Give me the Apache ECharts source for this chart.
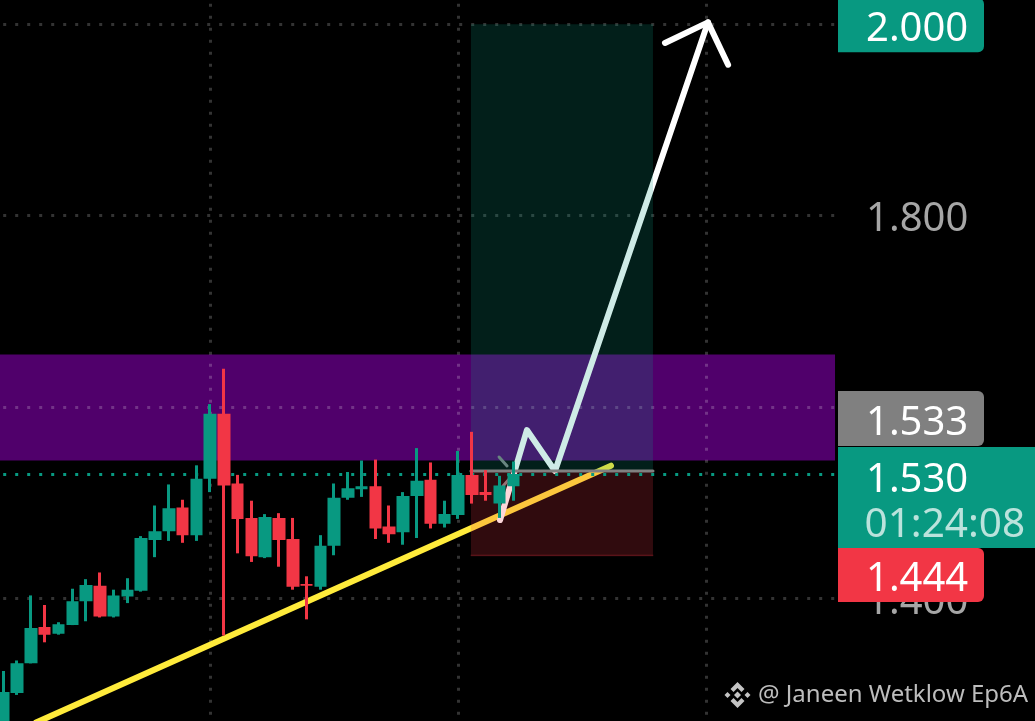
<!DOCTYPE html>
<html>
<head>
<meta charset="utf-8">
<style>html,body{margin:0;padding:0;background:#000}#c{width:1035px;height:721px}</style>
<script src="https://cdn.jsdelivr.net/npm/echarts@6/dist/echarts.min.js"></script>
</head>
<body>
<div id="c"></div>
<script>
// [open, close, low, high]
const candles = [
[1.268,1.302,1.268,1.324],[1.301,1.332,1.299,1.335],[1.332,1.369,1.332,1.403],[1.370,1.362,1.354,1.393],
[1.363,1.373,1.362,1.375],[1.372,1.397,1.372,1.410],[1.397,1.414,1.376,1.420],[1.413,1.381,1.380,1.427],
[1.381,1.403,1.380,1.409],[1.402,1.409,1.395,1.421],[1.408,1.463,1.407,1.465],[1.461,1.470,1.443,1.497],
[1.470,1.494,1.460,1.519],[1.495,1.466,1.458,1.503],[1.466,1.525,1.460,1.539],[1.525,1.593,1.511,1.603],
[1.593,1.518,1.361,1.640],[1.520,1.483,1.447,1.529],[1.484,1.444,1.438,1.502],[1.443,1.485,1.442,1.488],
[1.484,1.461,1.433,1.489],[1.462,1.412,1.409,1.484],[1.415,1.413,1.378,1.423],[1.412,1.455,1.409,1.466],
[1.455,1.505,1.445,1.520],[1.505,1.515,1.503,1.532],[1.514,1.517,1.506,1.544],[1.517,1.473,1.462,1.545],
[1.475,1.467,1.458,1.497],[1.469,1.507,1.456,1.511],[1.507,1.523,1.463,1.557],[1.524,1.478,1.473,1.542],
[1.478,1.488,1.474,1.502],[1.487,1.529,1.483,1.554],[1.529,1.508,1.499,1.574],[1.511,1.508,1.502,1.534],
[1.499,1.518,1.484,1.528],[1.517,1.530,1.502,1.543]
];
const barSlots = 61;
const categories = Array.from({length: barSlots}, (_, i) => String(i));
const gridPrices = [1.4, 1.6, 1.8, 2.0];
const gridBars = [15, 33, 51];
const currentPrice = 1.530;
const resistanceBand = [1.5441, 1.6548];
const bandEndBar = 60.35;
const positionBars = [33.93, 47.14];
const entryPrice = 1.533, targetPrice = 2.000, stopPrice = 1.444;
const trendLine = [[2.37,1.2701],[44.09,1.5386]];
const forecastPath = [[36.04,1.4818],[37.99,1.5759],[40.03,1.533],[51.13,2.002]];
const arrowHead = [[48.01,1.9805],[51.13,2.002],[52.59,1.9577]];
const markStubA = [[35.97,1.5477],[36.55,1.5383]];
const markStubB = [[36.77,1.5257],[36.26,1.5174]];
const tagPrices = [2.000, 1.533, 1.530, 1.444];
const tagLabels = ['2.000', '1.533', '1.530', '1.444'];
const countdown = '01:24:08';
const watermark = '@ Janeen Wetklow Ep6A';

const GREEN = '#089981', RED = '#F23645', FONT = '"Noto Sans", sans-serif';
const dotH = {color:'rgba(255,255,255,0.2)', width:3, type:[3,9], dashOffset:5.3};
const dotV = {color:'rgba(255,255,255,0.2)', width:3, type:[3,9], dashOffset:9.16};

function hostLine(name, z, extra) {
  return Object.assign({name, type:'line', xAxisIndex:1, yAxisIndex:0, z, data:[], silent:true, symbol:'none', animation:false}, extra);
}
function pathLine(name, data, color, width, z) {
  return {name, type:'line', xAxisIndex:1, yAxisIndex:0, z, data, silent:true, symbol:'none', animation:false,
    lineStyle:{color, width, cap:'round', join:'round'}};
}
// price tag layout: [offset from price to box top, height, box right, rounded]
const tagBox = [
  {dy:-26.3, h:54.3, r:984, round:true, fill:GREEN, ty:4},
  {dy:-80, h:55, r:984, round:true, fill:'#808080', ty:5},
  {dy:-27, h:101, r:1035, round:false, fill:GREEN, ty:-17.3},
  {dy:-8.2, h:54, r:984, round:true, fill:RED, ty:4.3}
];

const option = {
  backgroundColor:'#000',
  animation:false,
  grid:{left:-3.5, width:840.6, top:-167.06, height:956.7, containLabel:false, outerBoundsMode:'none'},
  xAxis:[
    {type:'category', data:categories, boundaryGap:true, show:false},
    {type:'value', min:-0.5, max:60.5, show:false, splitLine:{show:false}}
  ],
  yAxis:{type:'value', position:'right', min:1.2, max:2.2, interval:0.2,
    axisLine:{show:false}, axisTick:{show:false}, splitLine:{show:false},
    axisLabel:{margin:29, align:'left',
      rich:{t:{color:'#a6a6a6', fontSize:40, fontFamily:FONT, padding:[8,0,0,0]}},
      formatter:v=>'{t|'+v.toFixed(3)+'}'}},
  series:[
    hostLine('Resistance zone', 1, {markArea:{silent:true, z:1, itemStyle:{color:'#50006B'},
      data:[[{xAxis:-0.5, yAxis:resistanceBand[1]},{xAxis:bandEndBar, yAxis:resistanceBand[0]}]]}}),
    hostLine('Grid', 2, {markLine:{silent:true, z:2, symbol:'none', label:{show:false},
      data:gridPrices.map(p=>({yAxis:p, lineStyle:dotH})).concat(gridBars.map(b=>({xAxis:b, lineStyle:dotV})))}}),
    pathLine('Trend line', trendLine, '#FFEB3B', 6, 3),
    pathLine('Forecast', forecastPath, '#FFFFFF', 6, 3),
    pathLine('Arrow head', arrowHead, '#FFFFFF', 6, 3),
    pathLine('Stub A', markStubA, '#808080', 3, 3),
    pathLine('Stub B', markStubB, '#808080', 3, 3),
    hostLine('Position', 4, {markArea:{silent:true, z:4, data:[
      [{xAxis:positionBars[0], yAxis:targetPrice, itemStyle:{color:'rgba(8,153,129,0.2)'}},{xAxis:positionBars[1], yAxis:entryPrice}],
      [{xAxis:positionBars[0], yAxis:entryPrice, itemStyle:{color:'rgba(242,54,69,0.2)'}},{xAxis:positionBars[1], yAxis:stopPrice}]
    ]}}),
    pathLine('Entry', [[positionBars[0],entryPrice],[positionBars[1],entryPrice]], '#808080', 3, 5),
    pathLine('Stop', [[positionBars[0],stopPrice+0.001],[positionBars[1],stopPrice+0.001]], 'rgba(242,54,69,0.3)', 1, 5),
    hostLine('Current', 5, {markLine:{silent:true, z:5, symbol:'none', label:{show:false},
      data:[{yAxis:currentPrice, lineStyle:{color:GREEN, width:3, type:[3,9], dashOffset:5.3}}]}}),
    {name:'Wicks', type:'candlestick', xAxisIndex:0, yAxisIndex:0, z:6, silent:true, data:candles, barWidth:1, clip:false,
      itemStyle:{color:GREEN, color0:RED, borderColor:GREEN, borderColor0:RED, borderWidth:3}},
    {name:'Bodies', type:'candlestick', xAxisIndex:0, yAxisIndex:0, z:7, silent:true, data:candles, barWidth:13, clip:false,
      itemStyle:{color:GREEN, color0:RED, borderColor:GREEN, borderColor0:RED, borderWidth:0}},
    {name:'Price tags', type:'custom', xAxisIndex:0, yAxisIndex:0, z:10, silent:true, clip:false,
      data:tagPrices.map((p,i)=>[0,p,i]),
      renderItem(params, api){
        const i = api.value(2), b = tagBox[i], y = api.coord([0, api.value(1)])[1], top = y + b.dy;
        const kids = [
          {type:'rect', shape:{x:838, y:top, width:b.r-838, height:b.h, r:b.round?[0,6,6,0]:0}, style:{fill:b.fill}},
          {type:'text', style:{x:866, y:top+b.h/2+b.ty, text:tagLabels[i], fill:'#fff', font:'40px '+FONT, textAlign:'left', textVerticalAlign:'middle'}}
        ];
        if (i === 2) kids.push({type:'text', style:{x:864.5, y:top+b.h/2+27.7, text:countdown, fill:'rgba(255,255,255,0.72)', font:'40.5px '+FONT, textAlign:'left', textVerticalAlign:'middle'}});
        return {type:'group', children:kids};
      }}
  ],
  graphic:[
    {type:'group', x:737.5, y:695, silent:true, z:20, children:[
      {type:'polygon', shape:{points:[[0,-13],[7,-6],[4,-3],[0,-7],[-4,-3],[-7,-6]]}, style:{fill:'#c4c4c4'}},
      {type:'polygon', shape:{points:[[0,13],[7,6],[4,3],[0,7],[-4,3],[-7,6]]}, style:{fill:'#c4c4c4'}},
      {type:'polygon', shape:{points:[[0,-3.5],[3.5,0],[0,3.5],[-3.5,0]]}, style:{fill:'#c4c4c4'}},
      {type:'polygon', shape:{points:[[-10,-3],[-7,0],[-10,3],[-13,0]]}, style:{fill:'#c4c4c4'}},
      {type:'polygon', shape:{points:[[10,-3],[13,0],[10,3],[7,0]]}, style:{fill:'#c4c4c4'}}
    ]},
    {type:'text', x:758, y:695, silent:true, z:20, style:{text:watermark, fill:'#bdbdbd', font:'24px '+FONT, textAlign:'left', textVerticalAlign:'middle'}}
  ]
};
const chart = echarts.init(document.getElementById('c'), null, {renderer:'canvas'});
chart.setOption(option);
</script>
</body>
</html>
